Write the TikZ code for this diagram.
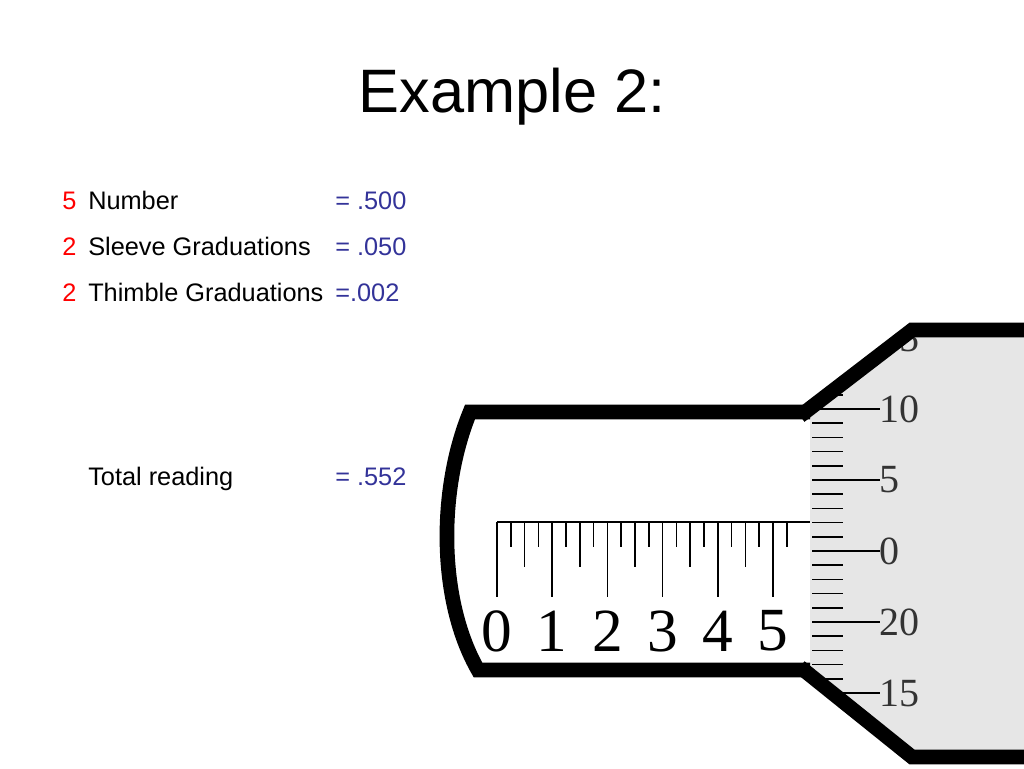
\documentclass[tikz,border=0pt]{standalone}
\usepackage{fontspec}
\setmainfont{Liberation Sans}
\newfontfamily\scalefont{Liberation Serif}
\usepackage{xcolor}
\usetikzlibrary{positioning}
\definecolor{valblue}{RGB}{51,51,153}
\definecolor{thimblegray}{RGB}{230,230,230}

\begin{document}
\begin{tikzpicture}[x=0.75pt, y=-0.75pt, line join=miter,
    row/.style={anchor=base west, font=\fontsize{19}{21}\selectfont, inner sep=0pt},
    num/.style={row, text=red},
    val/.style={row, text=valblue},
    frame/.style={line width=11pt},
    tick/.style={line width=1.3pt}]
        \useasboundingbox (0,0) rectangle (1024,768);

        % Title
        \node[font=\fontsize{46}{50}\selectfont] (title) at (512,97) {Example 2:};

        % Reading
        \node[num] (n1) at (62,209) {5};
        \node[row] (t1) at (88,209) {Number};
        \node[val] (v1) at (335,209) {= .500};
        \node[num] (n2) at (62,255) {2};
        \node[row] (t2) at (88,255) {Sleeve Graduations};
        \node[val] (v2) at (335,255) {= .050};
        \node[num] (n3) at (62,301) {2};
        \node[row] (t3) at (88,301) {Thimble Graduations};
        \node[val] (v3) at (335,301) {=.002};
        \node[row] (tot) at (88,485) {Total reading};
        \node[val] (vtot) at (335,485) {= .552};

        % Thimble
        \fill[thimblegray] (810,412) -- (912,330) -- (1024,330) -- (1024,757) -- (912,757) -- (810,668) -- cycle;
        \begin{scope}
            \clip (810,412) -- (912,330) -- (1024,330) -- (1024,757) -- (912,757) -- (810,668) -- cycle;
            \foreach \k in {-12,...,15} {
                \pgfmathsetmacro{\yy}{551-14.2*\k}
                \pgfmathtruncatemacro{\m}{mod(\k+25,5)}
                \ifnum\m=0
                    \pgfmathtruncatemacro{\lab}{mod(\k+25,25)}
                    \draw[tick, line width=0.9pt] (812,\yy) -- (880,\yy);
                    \node[anchor=west, inner sep=1pt, text=black!80, font=\scalefont\fontsize{30}{30}\selectfont] at (878,\yy) {\lab};
                \else
                    \draw[tick] (812,\yy) -- (843,\yy);
                \fi
            }
        \end{scope}
        \draw[frame] (800,416) -- (912,330) -- (1030,330);
        \draw[frame] (800,667) -- (912,757) -- (1030,757);

        % Sleeve
        \draw[frame] (810,412) -- (470,412) .. controls (438,490) and (438,600) .. (478,670) -- (810,670);
        \draw[tick] (497,522) -- (810,522);
        \foreach \i in {0,...,21} {
            \pgfmathsetmacro{\xx}{497+13.8*\i}
            \pgfmathtruncatemacro{\r}{mod(\i,4)}
            \pgfmathsetmacro{\len}{\r==0 ? 75 : (\r==2 ? 45 : 25)}
            \draw[tick] (\xx,522) -- (\xx,522+\len);
        }
        \foreach \d in {0,...,5}
            \node[font=\scalefont\fontsize{46}{46}\selectfont, inner sep=0pt] (s\d) at (497+55.2*\d,631) {\d};
    \end{tikzpicture}
\end{document}
